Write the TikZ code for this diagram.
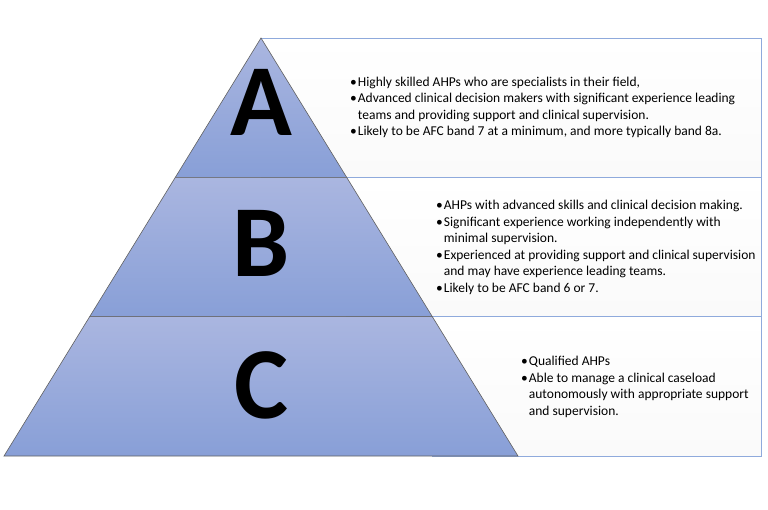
\documentclass[tikz,border=0pt]{standalone}
\usepackage{fontspec}
\setmainfont{Carlito}
\usetikzlibrary{calc}
\definecolor{tierTop}{RGB}{170,182,224}
\definecolor{tierBot}{RGB}{136,159,215}
\definecolor{boxLine}{RGB}{143,170,220}
\newcommand{\bul}{\textbullet}
\begin{document}
\begin{tikzpicture}[x=1pt,y=-1pt,
    tier/.style={draw=gray!75!black,line width=0.6pt,top color=tierTop,bottom color=tierBot},
    infobox/.style={draw=boxLine,line width=0.7pt,top color=white,bottom color=gray!4},
    letter/.style={inner sep=0pt,font=\fontsize{102}{102}\selectfont\bfseries},
    info/.style={anchor=west,inner sep=0pt,font=\fontsize{13.5}{16.5}\selectfont}]
    \useasboundingbox (0,0) rectangle (768,510);
    \coordinate (apex) at (261,38);
    \coordinate (bl) at (4,456);
    \coordinate (br) at (518,456);
    \coordinate (l1) at ($(apex)!1/3!(bl)$);
    \coordinate (r1) at ($(apex)!1/3!(br)$);
    \coordinate (l2) at ($(apex)!2/3!(bl)$);
    \coordinate (r2) at ($(apex)!2/3!(br)$);
    % text panels behind the pyramid
    \path[infobox] (apex) rectangle (761,0|-r1);
    \path[infobox] (r1) rectangle (761,0|-r2);
    \path[infobox] (r2) rectangle (761,0|-br);
    % the three tiers
    \path[tier] (apex) -- (r1) -- (l1) -- cycle;
    \path[tier] (l1) -- (r1) -- (r2) -- (l2) -- cycle;
    \path[tier] (l2) -- (r2) -- (br) -- (bl) -- cycle;
    \node[letter] (tierA) at (261,102) {A};
    \node[letter] (tierB) at (261,243) {B};
    \node[letter] (tierC) at (261,385) {C};
    \node[info] (textA) at (350,107.5) {\begin{tabular}{@{}l@{\hspace{1pt}}l@{}}
        \bul & Highly skilled AHPs who are specialists in their field,\\
        \bul & Advanced clinical decision makers with significant experience leading\\
             & teams and providing support and clinical supervision.\\
        \bul & Likely to be AFC band 7 at a minimum, and more typically band 8a.
    \end{tabular}};
    \node[info] (textB) at (436,247.5) {\begin{tabular}{@{}l@{\hspace{1pt}}l@{}}
        \bul & AHPs with advanced skills and clinical decision making.\\
        \bul & Significant experience working independently with\\
             & minimal supervision.\\
        \bul & Experienced at providing support and clinical supervision\\
             & and may have experience  leading teams.\\
        \bul & Likely to be AFC band 6 or 7.
    \end{tabular}};
    \node[info] (textC) at (521,387) {\begin{tabular}{@{}l@{\hspace{1pt}}l@{}}
        \bul & Qualified AHPs\\
        \bul & Able to manage a clinical caseload\\
             & autonomously with appropriate support\\
             & and supervision.
    \end{tabular}};
\end{tikzpicture}
\end{document}
